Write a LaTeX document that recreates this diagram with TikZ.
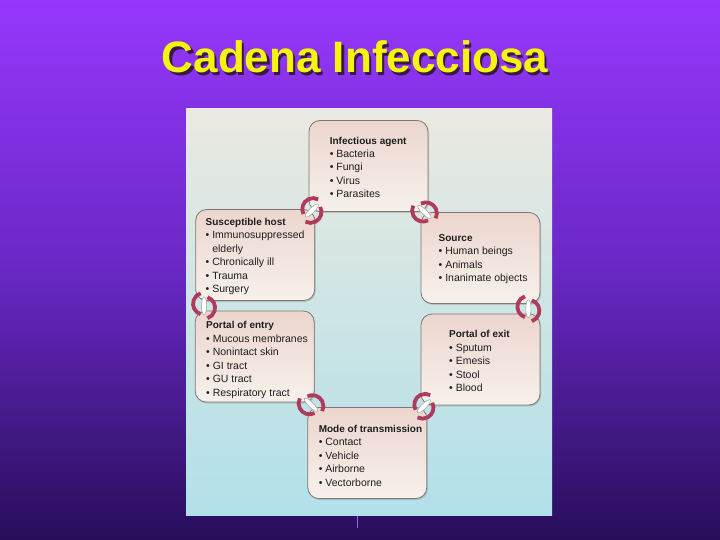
\documentclass[tikz,border=0pt]{standalone}
\usepackage{fontspec}
\setmainfont{Liberation Sans}
\usetikzlibrary{shadows,calc}
\definecolor{bgtop}{RGB}{150,55,252}
\definecolor{bgmid}{RGB}{105,40,196}
\definecolor{bgbot}{RGB}{40,14,90}
\definecolor{paneltop}{RGB}{235,233,225}
\definecolor{panelmid}{RGB}{205,229,229}
\definecolor{panelbot}{RGB}{178,224,234}
\definecolor{boxtop}{RGB}{236,214,206}
\definecolor{boxbot}{RGB}{247,241,235}
\definecolor{boxline}{RGB}{125,120,118}
\definecolor{linkred}{RGB}{176,58,92}
\definecolor{titleyellow}{RGB}{245,245,12}
\definecolor{titleshade}{RGB}{55,25,70}
\definecolor{inktext}{RGB}{30,30,30}
\definecolor{markline}{RGB}{150,100,240}
\begin{document}
\begin{tikzpicture}[x=1pt,y=-1pt,
  titletext/.style={anchor=base, inner sep=0pt, font=\fontsize{44}{50}\selectfont\bfseries},
  chainbox/.style={draw=boxline, line width=0.8pt, rounded corners=11pt,
    top color=boxtop, bottom color=boxbot, minimum width=119pt, minimum height=91pt,
    drop shadow={opacity=0.35, shadow xshift=1pt, shadow yshift=-1.5pt}},
  boxtext/.style={anchor=north west, inner sep=0pt, align=left,
    font=\fontsize{10.5}{13.45}\selectfont, text=inktext},
  linkarc/.style={draw=linkred, line width=3.8pt},
  linkin/.style={fill=white, draw=boxline!70, line width=0.5pt}]
\newcommand{\boxhead}[1]{{\fontsize{10}{13.45}\selectfont\bfseries #1}}
\useasboundingbox (0,0) rectangle (720,540);
% background
\shade[top color=bgtop, bottom color=bgbot, middle color=bgmid] (0,0) rectangle (720,540);
% panel
\shade[top color=paneltop, bottom color=panelbot, middle color=panelmid] (186,108.5) rectangle (552,515.5);
\draw[markline, line width=1.3pt] (357.7,516) -- (357.7,528);
% title with shadow in one node
\node[titletext, text=titleyellow] (title) at (355,73)
  {\makebox[0pt][l]{\hspace{2.3pt}\raisebox{-2.3pt}{\textcolor{titleshade}{Cadena Infecciosa}}}Cadena Infecciosa};
% boxes
\node[chainbox] (agent)  at (368.5,166) {};
\node[chainbox] (host)   at (255.2,255) {};
\node[chainbox] (source) at (480.5,258) {};
\node[chainbox] (entry)  at (254.7,356.5) {};
\node[chainbox] (exit)   at (480.5,359.5) {};
\node[chainbox] (mode)   at (367.3,453) {};
% texts
\node[boxtext] (agentT) at (329.6,135.8)
  {\rule{0pt}{8pt}\boxhead{Infectious agent}\\• Bacteria\\• Fungi\\• Virus\\• Parasites};
\node[boxtext] (hostT) at (205.5,217.1)
  {\rule{0pt}{8pt}\boxhead{Susceptible host}\\• Immunosuppressed\\\hphantom{• }elderly\\• Chronically ill\\• Trauma\\• Surgery};
\node[boxtext] (sourceT) at (438.5,233.3)
  {\rule{0pt}{8pt}\boxhead{Source}\\• Human beings\\• Animals\\• Inanimate objects};
\node[boxtext] (entryT) at (206,320.7)
  {\rule{0pt}{8pt}\boxhead{Portal of entry}\\• Mucous membranes\\• Nonintact skin\\• GI tract\\• GU tract\\• Respiratory tract};
\node[boxtext] (exitT) at (449,329.7)
  {\rule{0pt}{8pt}\boxhead{Portal of exit}\\• Sputum\\• Emesis\\• Stool\\• Blood};
\node[boxtext] (modeT) at (318.6,424.1)
  {\rule{0pt}{8pt}\boxhead{Mode of transmission}\\• Contact\\• Vehicle\\• Airborne\\• Vectorborne};
% chain links
\coordinate (L1) at ($(agent.south west)!0.5!(host.north east)$);
\coordinate (L2) at ($(agent.south east)!0.5!(source.north west)$);
\coordinate (L3) at ($(host.south west)!0.5!(entry.north west)+(9,0)$);
\coordinate (L4) at ($(source.south east)!0.5!(exit.north east)+(-12,0)$);
\coordinate (L5) at ($(entry.south east)!0.5!(mode.north west)$);
\coordinate (L6) at ($(exit.south west)!0.5!(mode.north east)$);
\foreach \c/\t in {L1/-45, L2/45, L3/90, L4/90, L5/45, L6/-45}{
  \draw[linkin, rotate around={-\t:(\c)}] (\c) ellipse [x radius=9pt, y radius=2.6pt];
  \draw[linkarc] ($(\c)+(\t:-2)$) ++(\t+18:11) arc[start angle=\t+18, end angle=\t+162, radius=11];
  \draw[linkarc] ($(\c)+(\t:2)$) ++(\t-162:11) arc[start angle=\t-162, end angle=\t-18, radius=11];
}
\end{tikzpicture}
\end{document}
